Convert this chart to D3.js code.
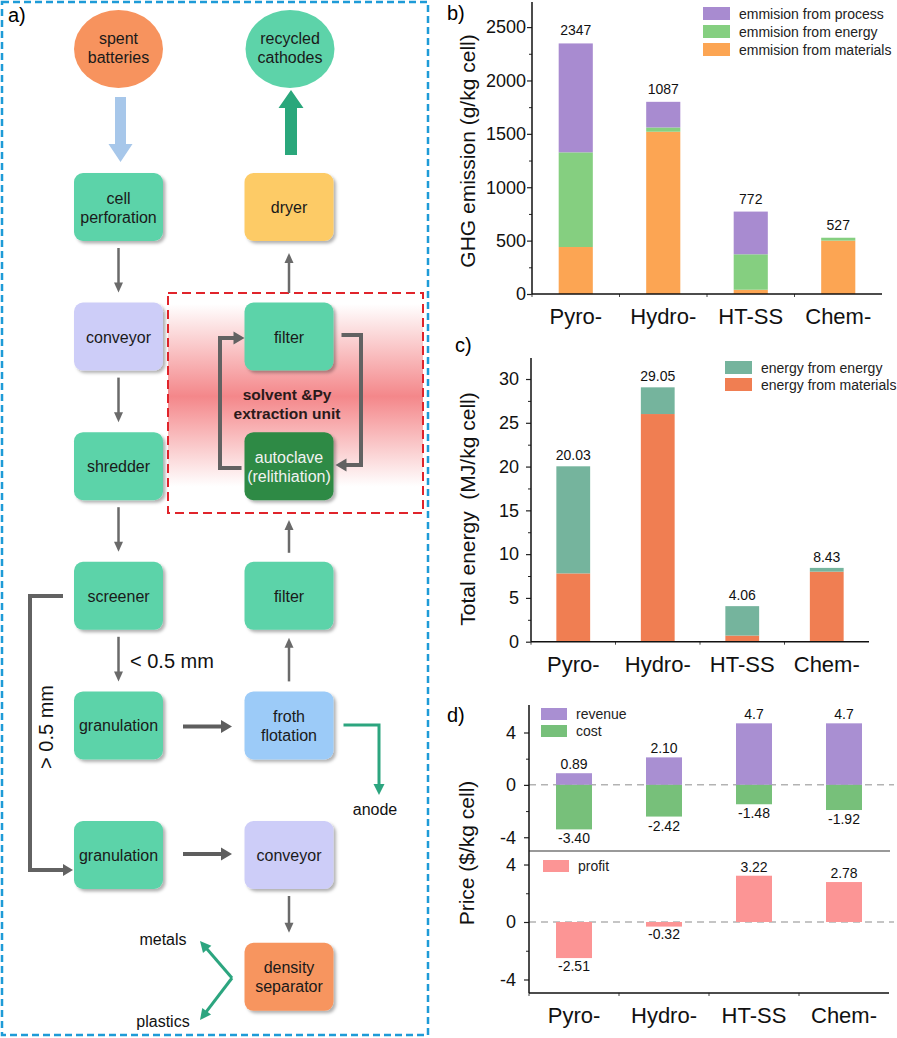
<!DOCTYPE html>
<html>
<head>
<meta charset="utf-8">
<script src="https://cdn.jsdelivr.net/npm/d3@7"></script>
<style>
body { margin: 0; background: #fff; }
svg { display: block; font-family: "Liberation Sans", Arial, sans-serif; }
</style>
</head>
<body>
<script>
var categories = ["Pyro-", "Hydro-", "HT-SS", "Chem-"];

// b) GHG emission (g/kg cell)
var ghgMaterials = [440, 1520, 40, 500];
var ghgEnergy = [887, 40, 332, 27];
var ghgProcess = [1020, 240, 400, 0];
var ghgLabels = ["2347", "1087", "772", "527"];
var ghgTicks = [0, 500, 1000, 1500, 2000, 2500];
var ghgMinor = [250, 750, 1250, 1750, 2250];

// c) total energy (MJ/kg cell)
var enMaterials = [7.8, 26.0, 0.7, 8.0];
var enEnergy = [12.23, 3.05, 3.36, 0.43];
var enLabels = ["20.03", "29.05", "4.06", "8.43"];
var enTicks = [0, 5, 10, 15, 20, 25, 30];
var enMinor = [2.5, 7.5, 12.5, 17.5, 22.5, 27.5];

// d) price ($/kg cell)
var revenue = [0.89, 2.10, 4.7, 4.7];
var cost = [-3.40, -2.42, -1.48, -1.92];
var profit = [-2.51, -0.32, 3.22, 2.78];
var revenueLabels = ["0.89", "2.10", "4.7", "4.7"];
var costLabels = ["-3.40", "-2.42", "-1.48", "-1.92"];
var profitLabels = ["-2.51", "-0.32", "3.22", "2.78"];
var priceTicks = [-4, 0, 4];
var priceMinor = [-2, 2];

// a) flow chart boxes
var flowNodes = [
  {id: "cell", text: ["cell", "perforation"], col: 0, row: 0, kind: "green"},
  {id: "conv1", text: ["conveyor"], col: 0, row: 1, kind: "lilac"},
  {id: "shred", text: ["shredder"], col: 0, row: 2, kind: "green"},
  {id: "screen", text: ["screener"], col: 0, row: 3, kind: "green"},
  {id: "gran1", text: ["granulation"], col: 0, row: 4, kind: "green"},
  {id: "gran2", text: ["granulation"], col: 0, row: 5, kind: "green"},
  {id: "dryer", text: ["dryer"], col: 1, row: 0, kind: "yellow"},
  {id: "filter1", text: ["filter"], col: 1, row: 1, kind: "green"},
  {id: "auto", text: ["autoclave", "(relithiation)"], col: 1, row: 2, kind: "dark"},
  {id: "filter2", text: ["filter"], col: 1, row: 3, kind: "green"},
  {id: "froth", text: ["froth", "flotation"], col: 1, row: 4, kind: "blue"},
  {id: "conv2", text: ["conveyor"], col: 1, row: 5, kind: "lilac"},
  {id: "dens", text: ["density", "separator"], col: 1, row: 5.94, kind: "orange"}
];
var kindFill = {green: "#5cd3a9", lilac: "#cdcdf8", yellow: "#fdcb66", dark: "#2d8a45", blue: "#9ccbf8", orange: "#f7955f"};

var W = 897, H = 1038;
var svg = d3.select("body").append("svg").attr("width", W).attr("height", H);

var defs = svg.append("defs");
var shadow = defs.append("filter").attr("id", "shadow")
    .attr("x", "-20%").attr("y", "-20%").attr("width", "150%").attr("height", "150%");
shadow.append("feDropShadow").attr("dx", 2.5).attr("dy", 2.5).attr("stdDeviation", 1.8)
    .attr("flood-color", "#000").attr("flood-opacity", 0.3);

var grad = defs.append("linearGradient").attr("id", "redband")
    .attr("x1", 0).attr("y1", 0).attr("x2", 0).attr("y2", 1);
grad.append("stop").attr("offset", "5%").attr("stop-color", "#ffffff");
grad.append("stop").attr("offset", "47%").attr("stop-color", "#f4878a");
grad.append("stop").attr("offset", "88%").attr("stop-color", "#ffffff");

function arrow(g, pts, color, w, headL, headW) {
  var n = pts.length, a = pts[n - 2], b = pts[n - 1];
  var dx = b[0] - a[0], dy = b[1] - a[1], len = Math.hypot(dx, dy);
  var ux = dx / len, uy = dy / len;
  var base = [b[0] - ux * headL, b[1] - uy * headL];
  var stop = [b[0] - ux * headL * 0.7, b[1] - uy * headL * 0.7];
  g.append("path")
      .attr("d", d3.line()(pts.slice(0, n - 1).concat([stop])))
      .attr("fill", "none").attr("stroke", color).attr("stroke-width", w);
  g.append("path")
      .attr("d", d3.line()([b, [base[0] - uy * headW / 2, base[1] + ux * headW / 2],
                               [base[0] + uy * headW / 2, base[1] - ux * headW / 2]]) + "Z")
      .attr("fill", color);
}

function blockArrow(g, cx, y0, y1, sw, hw, hl, color) {
  var dir = y1 > y0 ? 1 : -1, yb = y1 - dir * hl;
  var pts = [[cx - sw / 2, y0], [cx + sw / 2, y0], [cx + sw / 2, yb], [cx + hw / 2, yb],
             [cx, y1], [cx - hw / 2, yb], [cx - sw / 2, yb]];
  g.append("polygon").attr("points", pts.join(" ")).attr("fill", color);
}

// ---------------- a) flow chart ----------------
var ga = svg.append("g");
ga.append("rect").attr("x", 2).attr("y", 2).attr("width", 426).attr("height", 1033)
    .attr("fill", "none").attr("stroke", "#1e9bd7").attr("stroke-width", 2.5)
    .attr("stroke-dasharray", "7,4");
ga.append("text").attr("x", 8).attr("y", 22).style("font-size", "20px").text("a)");

var colX = d3.scaleLinear().domain([0, 1]).range([118.5, 289]);
var rowY = d3.scaleLinear().domain([0, 5]).range([173, 821]);
var bw = 89, bh = 68;
function box(id) {
  var n = flowNodes.find(function(d) { return d.id === id; });
  var cx = colX(n.col), y = rowY(n.row);
  return {x: cx - bw / 2, y: y, cx: cx, cy: y + bh / 2, r: cx + bw / 2, b: y + bh};
}

// red extraction unit
ga.append("rect").attr("x", 168).attr("y", 293).attr("width", 255).attr("height", 220)
    .attr("fill", "url(#redband)");
ga.append("rect").attr("x", 168).attr("y", 293).attr("width", 255).attr("height", 220)
    .attr("fill", "none").attr("stroke", "#e0242b").attr("stroke-width", 2)
    .attr("stroke-dasharray", "9,5");
ga.append("text").attr("x", 287).attr("y", 400).attr("text-anchor", "middle")
    .style("font-size", "15.5px").style("font-weight", "bold").attr("fill", "#2a1a1a").text("solvent &Py");
ga.append("text").attr("x", 287).attr("y", 419).attr("text-anchor", "middle")
    .style("font-size", "15.5px").style("font-weight", "bold").attr("fill", "#2a1a1a").text("extraction unit");

// ellipses
var ends = [
  {text: ["spent", "batteries"], col: 0, fill: "#f7935e"},
  {text: ["recycled", "cathodes"], col: 1, fill: "#5dd3a9"}
];
ends.forEach(function(e) {
  var cx = colX(e.col) + (e.col ? 1 : 0);
  ga.append("ellipse").attr("cx", cx).attr("cy", 49).attr("rx", 44.5).attr("ry", 39).attr("fill", e.fill);
  e.text.forEach(function(t, i) {
    ga.append("text").attr("x", cx).attr("y", 44 + i * 19).attr("text-anchor", "middle")
        .style("font-size", "16px").attr("fill", "#1a1a1a").text(t);
  });
});
blockArrow(ga, 120.5, 97, 162, 11, 24, 18, "#a7c7ea");
blockArrow(ga, 291, 155, 90, 12, 25, 18, "#2aa77b");

// boxes
var nodeG = ga.selectAll("g.node").data(flowNodes).enter().append("g")
    .attr("transform", function(d) { return "translate(" + (colX(d.col) - bw / 2) + "," + rowY(d.row) + ")"; });
nodeG.append("rect").attr("width", bw).attr("height", bh).attr("rx", 9)
    .attr("fill", function(d) { return kindFill[d.kind]; }).attr("filter", "url(#shadow)");
nodeG.each(function(d) {
  var g = d3.select(this), n = d.text.length;
  d.text.forEach(function(t, i) {
    g.append("text").attr("x", bw / 2).attr("y", bh / 2 + 6 + (i - (n - 1) / 2) * 19)
        .attr("text-anchor", "middle").style("font-size", "16px")
        .attr("fill", d.kind === "dark" ? "#f2f2f2" : "#1a1a1a").text(t);
  });
});

// thin grey connectors
var grey = "#6a6a6a";
[["cell", "conv1"], ["conv1", "shred"], ["shred", "screen"], ["screen", "gran1"], ["conv2", "dens"]]
  .forEach(function(p) {
    var a = box(p[0]), b = box(p[1]);
    arrow(ga, [[a.cx, a.b + 7], [a.cx, b.y - 10]], grey, 2.5, 10, 9);
  });
var fr = box("froth"), f2 = box("filter2"), dr = box("dryer");
arrow(ga, [[fr.cx, fr.y - 10], [fr.cx, f2.b + 8]], grey, 2.5, 10, 9);
arrow(ga, [[f2.cx, f2.y - 9], [f2.cx, 520]], grey, 2.5, 10, 9);
arrow(ga, [[dr.cx, 293], [dr.cx, dr.b + 12]], grey, 2.5, 10, 9);

// loop inside extraction unit
var f1 = box("filter1"), au = box("auto");
arrow(ga, [[au.x - 3, 468], [220, 468], [220, 338], [f1.x, 338]], "#626262", 4, 11, 13);
arrow(ga, [[f1.r + 8, 335], [361, 335], [361, 465], [au.r + 2, 465]], "#626262", 4, 11, 13);

// horizontal thick arrows
var g1 = box("gran1"), g2 = box("gran2");
arrow(ga, [[183, g1.cy + 1], [232, g1.cy + 1]], "#5e5e5e", 4, 11, 13);
arrow(ga, [[183, g2.cy - 1], [232, g2.cy - 1]], "#5e5e5e", 4, 11, 13);

// > 0.5 mm bypass
arrow(ga, [[63, 596], [30, 596], [30, 870], [g2.x - 1, 870]], "#626262", 4, 10, 12);
ga.append("text").attr("transform", "translate(53,727) rotate(-90)").attr("text-anchor", "middle")
    .style("font-size", "20px").attr("fill", "#111").text("> 0.5 mm");
ga.append("text").attr("x", 130).attr("y", 668).style("font-size", "20px").attr("fill", "#111").text("< 0.5 mm");

// green outputs
var green = "#2ca57f";
arrow(ga, [[fr.r + 10, 725], [379, 725], [379, 795]], green, 3, 11, 11);
ga.append("text").attr("x", 375).attr("y", 815).attr("text-anchor", "middle")
    .style("font-size", "16px").attr("fill", "#111").text("anode");
arrow(ga, [[232, 978], [200, 941]], green, 3, 11, 11);
arrow(ga, [[232, 978], [200, 1020]], green, 3, 11, 11);
ga.append("text").attr("x", 163).attr("y", 945).attr("text-anchor", "middle")
    .style("font-size", "16px").attr("fill", "#111").text("metals");
ga.append("text").attr("x", 163).attr("y", 1027).attr("text-anchor", "middle")
    .style("font-size", "16px").attr("fill", "#111").text("plastics");

// ---------------- shared axis helpers ----------------
function leftAxis(g, y, x0, ticks, minor, pad) {
  g.append("g").attr("transform", "translate(" + x0 + ",0)")
      .call(d3.axisLeft(y).tickValues(ticks).tickSize(5).tickPadding(pad)
          .tickFormat(function(d) { return String(d); }))
      .call(function(s) { s.select(".domain").remove(); })
      .call(function(s) { s.selectAll("line").attr("stroke", "#222").attr("stroke-width", 1.2); })
      .selectAll("text").style("font-size", "18px").style("font-family", "Liberation Sans, Arial, sans-serif")
      .attr("fill", "#111");
  g.append("g").attr("transform", "translate(" + x0 + ",0)")
      .call(d3.axisLeft(y).tickValues(minor).tickSize(3).tickFormat(""))
      .call(function(s) { s.select(".domain").remove(); })
      .selectAll("line").attr("stroke", "#222");
  g.append("line").attr("x1", x0).attr("x2", x0)
      .attr("y1", y.range()[0]).attr("y2", y.range()[1])
      .attr("stroke", "#111").attr("stroke-width", 1.5);
}
function bottomAxis(g, x, y0, labelOffset) {
  g.append("g").attr("transform", "translate(0," + y0 + ")")
      .call(d3.axisBottom(x).tickSize(0).tickPadding(labelOffset).tickSizeOuter(0))
      .call(function(s) { s.select(".domain").remove(); })
      .selectAll("text").style("font-size", "22px").style("font-family", "Liberation Sans, Arial, sans-serif")
      .attr("fill", "#111");
  var step = x.step();
  g.selectAll(null).data(categories).enter().append("line")
      .attr("x1", function(d) { return x(d) - (step - x.bandwidth()) / 2; })
      .attr("x2", function(d) { return x(d) - (step - x.bandwidth()) / 2; })
      .attr("y1", y0).attr("y2", y0 + 3).attr("stroke", "#444");
  g.append("line").attr("x1", x.range()[0]).attr("x2", x.range()[1])
      .attr("y1", y0).attr("y2", y0).attr("stroke", "#111").attr("stroke-width", 1.5);
}
function yTitle(g, x, y, text) {
  g.append("text").attr("transform", "translate(" + x + "," + y + ") rotate(-90)")
      .attr("text-anchor", "middle").style("font-size", "21px").attr("fill", "#111").text(text);
}
function legend(g, x, y0, dy, items, w, h) {
  items.forEach(function(it, i) {
    g.append("rect").attr("x", x).attr("y", y0 + i * dy).attr("width", w).attr("height", h).attr("fill", it[1]);
    g.append("text").attr("x", x + w + 9).attr("y", y0 + i * dy + h - 1.5)
        .style("font-size", "14px").attr("fill", "#222").text(it[0]);
  });
}

// ---------------- b) GHG emission ----------------
var gb = svg.append("g");
var xb = d3.scaleBand().domain(categories).range([532, 882]).paddingInner(0.61).paddingOuter(0.305);
var yb = d3.scaleLinear().domain([0, 2735]).range([294, 2]);
var ghgRows = categories.map(function(c, i) {
  return {cat: c, materials: ghgMaterials[i], energy: ghgEnergy[i], process: ghgProcess[i]};
});
var ghgColor = {materials: "#fca553", energy: "#85cf80", process: "#a88bd0"};
var ghgStack = d3.stack().keys(["materials", "energy", "process"])(ghgRows);
gb.selectAll("g.layer").data(ghgStack).enter().append("g")
    .attr("fill", function(d) { return ghgColor[d.key]; })
  .selectAll("rect").data(function(d) { return d; }).enter().append("rect")
    .attr("x", function(d) { return xb(d.data.cat); })
    .attr("width", xb.bandwidth())
    .attr("y", function(d) { return yb(d[1]); })
    .attr("height", function(d) { return yb(d[0]) - yb(d[1]); });
gb.selectAll("text.val").data(ghgRows).enter().append("text")
    .attr("x", function(d) { return xb(d.cat) + xb.bandwidth() / 2; })
    .attr("y", function(d) { return yb(d.materials + d.energy + d.process) - 8; })
    .attr("text-anchor", "middle").style("font-size", "14px").attr("fill", "#111")
    .text(function(d, i) { return ghgLabels[i]; });
leftAxis(gb, yb, 532, ghgTicks, ghgMinor, 1);
bottomAxis(gb, xb, 294, 14);
yTitle(gb, 475, 151, "GHG emission (g/kg cell)");
legend(gb, 703, 7, 18, [["emmision from process", ghgColor.process],
                        ["emmision from energy", ghgColor.energy],
                        ["emmision from materials", ghgColor.materials]], 27, 13);
gb.append("text").attr("x", 447).attr("y", 20).style("font-size", "20px").text("b)");

// ---------------- c) total energy ----------------
var gc = svg.append("g");
var xc = d3.scaleBand().domain(categories).range([531, 869]).paddingInner(0.6).paddingOuter(0.3);
var yc = d3.scaleLinear().domain([0, 32.4]).range([641.7, 358]);
var enRows = categories.map(function(c, i) {
  return {cat: c, materials: enMaterials[i], energy: enEnergy[i]};
});
var enColor = {materials: "#f07e52", energy: "#75b49d"};
var enStack = d3.stack().keys(["materials", "energy"])(enRows);
gc.selectAll("g.layer").data(enStack).enter().append("g")
    .attr("fill", function(d) { return enColor[d.key]; })
  .selectAll("rect").data(function(d) { return d; }).enter().append("rect")
    .attr("x", function(d) { return xc(d.data.cat); })
    .attr("width", xc.bandwidth())
    .attr("y", function(d) { return yc(d[1]); })
    .attr("height", function(d) { return yc(d[0]) - yc(d[1]); });
gc.selectAll("text.val").data(enRows).enter().append("text")
    .attr("x", function(d) { return xc(d.cat) + xc.bandwidth() / 2; })
    .attr("y", function(d) { return yc(d.materials + d.energy) - 6; })
    .attr("text-anchor", "middle").style("font-size", "14px").attr("fill", "#111")
    .text(function(d, i) { return enLabels[i]; });
leftAxis(gc, yc, 531, enTicks, enMinor, 7);
bottomAxis(gc, xc, 641.7, 14.5);
yTitle(gc, 475, 509, "Total energy\u00a0\u00a0(MJ/kg cell)");
legend(gc, 725, 361, 17, [["energy from energy", enColor.energy],
                          ["energy from materials", enColor.materials]], 27, 13);
gc.append("text").attr("x", 455).attr("y", 352).style("font-size", "20px").text("c)");

// ---------------- d) price ----------------
var gd = svg.append("g");
var xd = d3.scaleBand().domain(categories).range([529, 889]).paddingInner(0.6).paddingOuter(0.3);
var ydTop = d3.scaleLinear().domain([-5.05, 6.1]).range([851, 705]);
var ydBot = d3.scaleLinear().domain([-4.94, 4.94]).range([993, 851]);
var priceColor = {revenue: "#a98fd2", cost: "#77c07a", profit: "#fc9595"};

function signedBars(g, vals, y, color) {
  g.selectAll(null).data(vals).enter().append("rect")
      .attr("x", function(d, i) { return xd(categories[i]); })
      .attr("width", xd.bandwidth())
      .attr("y", function(d) { return Math.min(y(0), y(d)); })
      .attr("height", function(d) { return Math.abs(y(d) - y(0)); })
      .attr("fill", color);
}
function barLabels(g, vals, labels, y, offUp, offDown) {
  g.selectAll(null).data(vals).enter().append("text")
      .attr("x", function(d, i) { return xd(categories[i]) + xd.bandwidth() / 2; })
      .attr("y", function(d) { return d >= 0 ? y(d) - offUp : y(d) + offDown; })
      .attr("text-anchor", "middle").style("font-size", "14px").attr("fill", "#111")
      .text(function(d, i) { return labels[i]; });
}
[ydTop, ydBot].forEach(function(y) {
  gd.append("line").attr("x1", 529).attr("x2", 894).attr("y1", y(0)).attr("y2", y(0))
      .attr("stroke", "#b3b3b3").attr("stroke-width", 1.5).attr("stroke-dasharray", "7,5");
});
signedBars(gd, revenue, ydTop, priceColor.revenue);
signedBars(gd, cost, ydTop, priceColor.cost);
signedBars(gd, profit, ydBot, priceColor.profit);
barLabels(gd, revenue, revenueLabels, ydTop, 4, 0);
barLabels(gd, cost, costLabels, ydTop, 0, 14);
barLabels(gd, profit, profitLabels, ydBot, 4, 12.5);
gd.append("line").attr("x1", 529).attr("x2", 890).attr("y1", 851).attr("y2", 851)
    .attr("stroke", "#777").attr("stroke-width", 1.5);
leftAxis(gd, ydTop, 529, priceTicks, priceMinor, 8);
leftAxis(gd, ydBot, 529, priceTicks, priceMinor, 8);
bottomAxis(gd, xd, 993, 14);
yTitle(gd, 474, 853, "Price ($/kg cell)");
legend(gd, 541, 708, 17, [["revenue", priceColor.revenue], ["cost", priceColor.cost]], 26, 12);
legend(gd, 543, 860, 17, [["profit", priceColor.profit]], 26, 12);
gd.append("text").attr("x", 447).attr("y", 722).style("font-size", "20px").text("d)");
</script>
</body>
</html>
